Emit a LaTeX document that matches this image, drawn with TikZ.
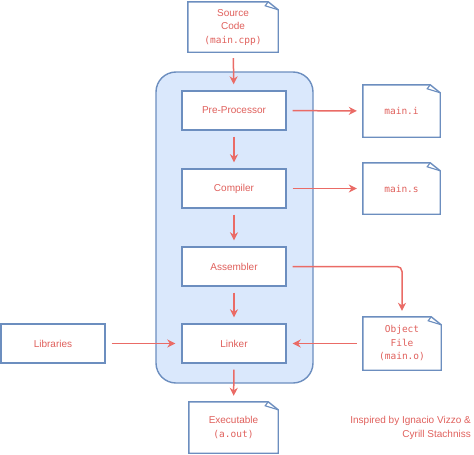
\documentclass[tikz,border=0pt]{standalone}
\usepackage{fontspec}
\setmainfont{Liberation Sans}
\newfontfamily\codefont{DejaVu Sans Mono}
\usetikzlibrary{arrows.meta}
\definecolor{bord}{HTML}{6C8EBF}
\definecolor{pale}{HTML}{DAE8FC}
\definecolor{redline}{HTML}{EA6B66}
\definecolor{redtext}{HTML}{E0605C}
\tikzset{
  proc/.style={draw=bord, line width=1.4pt, fill=white, minimum width=104pt, minimum height=39pt,
    inner sep=0pt, font=\fontsize{10}{13.5}\selectfont, text=redtext},
  docbox/.style={inner sep=0pt, align=center, font=\fontsize{10}{13.5}\selectfont, text=redtext},
  docline/.style={draw=bord, line width=1.4pt, line join=miter},
  container/.style={draw=bord, line width=1.4pt, fill=pale, rounded corners=20pt, inner sep=0pt},
  flow/.style={draw=redline, line width=1.5pt, -{Stealth[length=8pt,width=8pt]}, shorten <=6pt, shorten >=6pt},
}
\newcommand\code[1]{{\codefont\fontsize{9.5}{13.5}\selectfont #1}}
\newcommand\docoutline[1]{%
  \draw[docline, fill=white] (#1.north west) -- ([xshift=-10pt]#1.north east) -- ([yshift=-8pt]#1.north east)
     -- (#1.south east) -- (#1.south west) -- cycle;
  \draw[docline, line width=1.1pt] ([xshift=-10pt]#1.north east) -- ([xshift=-13pt,yshift=-4pt]#1.north east) -- ([yshift=-8pt]#1.north east);}
\begin{document}
\begin{tikzpicture}[x=1pt,y=-1pt]
\useasboundingbox (0,0) rectangle (474,455);
% container
\node[container, minimum width=157pt, minimum height=311pt] (stage) at (234.5,227.5) {};
% process boxes
\node[proc] (pre)  at (234,110.5) {Pre-Processor};
\node[proc] (comp) at (234,188.5) {Compiler};
\node[proc] (asm)  at (234,266.5) {Assembler};
\node[proc] (link) at (234,343.5) {Linker};
\node[proc] (lib)  at (53,343.5)  {Libraries};
% documents
\node[docbox, minimum width=90pt, minimum height=50pt] (src) at (233,27) {};
\docoutline{src}
\node[docbox] at (src.center) {Source\\Code\\\code{(main.cpp)}};
\node[docbox, minimum width=77pt, minimum height=52pt] (maini) at (401.5,111) {};
\docoutline{maini}
\node[docbox] at (maini.center) {\code{main.i}};
\node[docbox, minimum width=77pt, minimum height=51pt] (mains) at (401.5,188.5) {};
\docoutline{mains}
\node[docbox] at (mains.center) {\code{main.s}};
\node[docbox, minimum width=78pt, minimum height=53pt] (obj) at (402,343.5) {};
\docoutline{obj}
\node[docbox] at (obj.center) {\code{Object}\\\code{File}\\\code{(main.o)}};
\node[docbox, minimum width=89pt, minimum height=51pt] (exe) at (233.5,427.5) {};
\docoutline{exe}
\node[docbox] at (exe.center) {Executable\\\code{(a.out)}};
% credit
\node[docbox, align=right, anchor=east] (credit) at (471,428) {Inspired by Ignacio Vizzo \&\\Cyrill Stachniss};
% connectors
\draw[flow] (src) -- (pre);
\draw[flow] (pre) -- (comp);
\draw[flow] (comp) -- (asm);
\draw[flow] (asm) -- (link);
\draw[flow] (link) -- (exe);
\draw[flow] (pre) -- (maini);
\draw[flow] (comp) -- (mains);
\draw[flow, rounded corners=5pt] (asm.east) -| (obj.north);
\draw[flow] (obj) -- (link);
\draw[flow] (lib) -- (link);
\end{tikzpicture}
\end{document}
